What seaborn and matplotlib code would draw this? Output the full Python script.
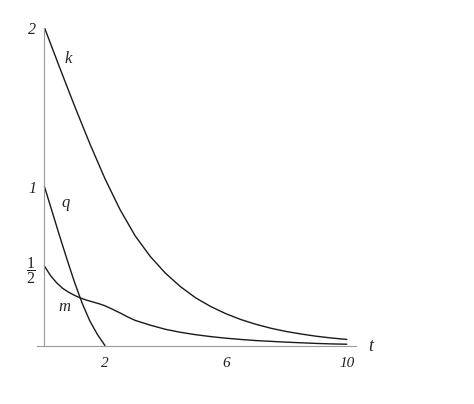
import numpy as np
import pandas as pd
import matplotlib
matplotlib.use('Agg')
import matplotlib.pyplot as plt
import seaborn as sns

# values
t_k = [0, 0.5, 1, 1.5, 2, 2.5, 3, 3.5, 4, 4.5, 5, 5.5, 6, 6.5, 7, 7.5, 8, 8.5, 9, 9.5, 10]
k = [2.0, 1.75, 1.505, 1.27, 1.05, 0.855, 0.69, 0.56, 0.455, 0.37, 0.30, 0.245, 0.20,
     0.163, 0.133, 0.108, 0.088, 0.072, 0.058, 0.047, 0.038]

t_q = [0, 0.25, 0.5, 0.75, 1.0, 1.25, 1.5, 1.75, 2.0]
q = [1.0, 0.845, 0.69, 0.54, 0.395, 0.265, 0.155, 0.07, 0.0]

t_m = [0, 0.2, 0.4, 0.6, 0.8, 1.0, 1.2, 1.4, 1.6, 1.8, 2.0, 2.25, 2.5, 2.75, 3,
       3.5, 4, 4.5, 5, 5.5, 6, 6.5, 7, 7.5, 8, 8.5, 9, 9.5, 10]
m = [0.50, 0.44, 0.395, 0.36, 0.335, 0.315, 0.298, 0.285, 0.274, 0.263, 0.250,
     0.228, 0.205, 0.18, 0.158, 0.128, 0.102, 0.083, 0.068, 0.056, 0.046, 0.038,
     0.031, 0.026, 0.021, 0.017, 0.013, 0.010, 0.008]

x_ticks = [2, 6, 10]
x_labels = ['2', '6', '10']
y_ticks = [0.5, 1, 2]
y_labels = [r'$\dfrac{\mathit{1}}{\mathit{2}}$', '1', '2']

sns.set_style('white')
plt.rcParams['font.family'] = ['Liberation Serif', 'DejaVu Serif']
plt.rcParams['mathtext.fontset'] = 'custom'
plt.rcParams['mathtext.it'] = 'Liberation Serif:italic'
plt.rcParams['mathtext.rm'] = 'Liberation Serif'

fig = plt.figure(figsize=(4.74, 4.04), dpi=100)
ax = fig.add_axes([0.0778, 0.1448, 0.673, 0.787])

curves = pd.concat([
    pd.DataFrame({'t': t_k, 'v': k, 'name': 'k'}),
    pd.DataFrame({'t': t_q, 'v': q, 'name': 'q'}),
    pd.DataFrame({'t': t_m, 'v': m, 'name': 'm'}),
])
sns.lineplot(data=curves, x='t', y='v', units='name', estimator=None,
             color='#1a1a1a', linewidth=1.0, sort=False, ax=ax)

ax.set_xlim(-0.25, 10.3)
ax.set_ylim(0, 2.0)
for s in ['top', 'right']:
    ax.spines[s].set_visible(False)
ax.spines['left'].set_position(('data', 0))
ax.spines['bottom'].set_position(('data', 0))
for s in ['left', 'bottom']:
    ax.spines[s].set_color('#9a9a9a')
    ax.spines[s].set_linewidth(0.8)

ax.set_xticks(x_ticks)
ax.set_xticklabels(x_labels, fontstyle='italic', fontsize=11, color='#222222')
ax.set_yticks(y_ticks)
ax.set_yticklabels(y_labels, fontstyle='italic', fontsize=11.5, color='#222222')
ax.tick_params(axis='both', direction='in', length=3, width=0.6, color='#9a9a9a')
ax.tick_params(axis='x', pad=8)
ax.tick_params(axis='y', pad=6)
ax.set_xlabel('')
ax.set_ylabel('')

# curve names and axis name
ax.text(0.65, 1.78, 'k', fontstyle='italic', fontsize=12)
ax.text(0.55, 0.87, 'q', fontstyle='italic', fontsize=12)
ax.text(0.45, 0.22, 'm', fontstyle='italic', fontsize=12)
ax.text(10.7, -0.035, 't', fontstyle='italic', fontsize=13)

plt.savefig('out.png', dpi=100)
